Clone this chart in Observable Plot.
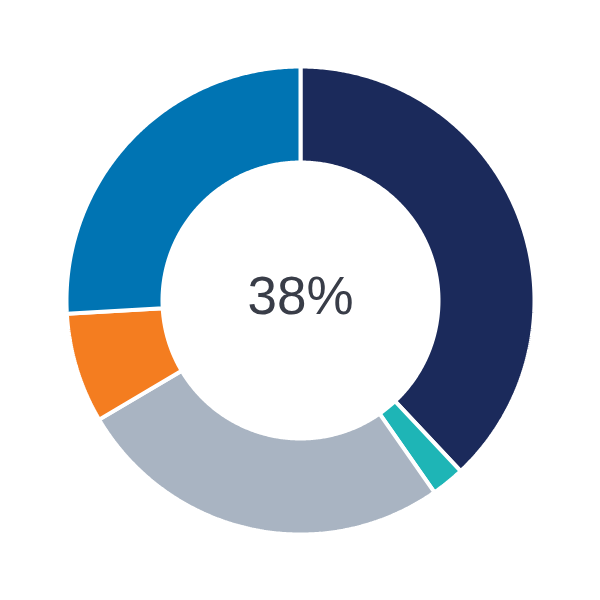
<!DOCTYPE html>
<html>
<head>
<meta charset="utf-8">
<script src="https://cdn.jsdelivr.net/npm/d3@7"></script>
<script src="https://cdn.jsdelivr.net/npm/@observablehq/plot@0.6"></script>
<style>
  html, body { margin: 0; padding: 0; background: #fff; }
  #chart { width: 600px; height: 600px; }
</style>
</head>
<body>
<div id="chart"></div>
<script>
const categories = ["A", "B", "C", "D", "E"];
const values = [38, 2.3, 26.2, 7.6, 25.9];
const colors = ["#1b2a5b", "#1eb5b6", "#a9b4c2", "#f47d20", "#0074b3"];
const centerLabel = "38%";

const outerR = 1;
const innerR = 138 / 234;
const pie = d3.pie().sort(null).value(d => d.value)(categories.map((c, i) => ({ category: c, value: values[i] })));

const points = [];
for (const s of pie) {
  const a0 = s.startAngle, a1 = s.endAngle;
  const n = Math.max(4, Math.ceil((a1 - a0) / (Math.PI / 360)));
  for (let k = 0; k <= n; k++) {
    const a = a0 + (a1 - a0) * k / n;
    points.push({ category: s.data.category, x: outerR * Math.sin(a), y: outerR * Math.cos(a) });
  }
  for (let k = n; k >= 0; k--) {
    const a = a0 + (a1 - a0) * k / n;
    points.push({ category: s.data.category, x: innerR * Math.sin(a), y: innerR * Math.cos(a) });
  }
}

const ext = 300 / 234;
const chart = Plot.plot({
  width: 600,
  height: 600,
  margin: 0,
  x: { domain: [-ext, ext], axis: null },
  y: { domain: [-ext, ext], axis: null },
  color: { type: "ordinal", domain: categories, range: colors },
  marks: [
    Plot.line(points, {
      x: "x", y: "y", z: "category", fill: "category",
      stroke: "white", strokeWidth: 4, strokeLinejoin: "miter",
      curve: "linear-closed"
    }),
    Plot.text([centerLabel], {
      text: d => d, frameAnchor: "middle", dy: -3,
      fontSize: 53, fill: "#393d48",
      fontFamily: "Liberation Sans, Arial, Helvetica, sans-serif"
    })
  ]
});
document.getElementById("chart").appendChild(chart);
</script>
</body>
</html>
